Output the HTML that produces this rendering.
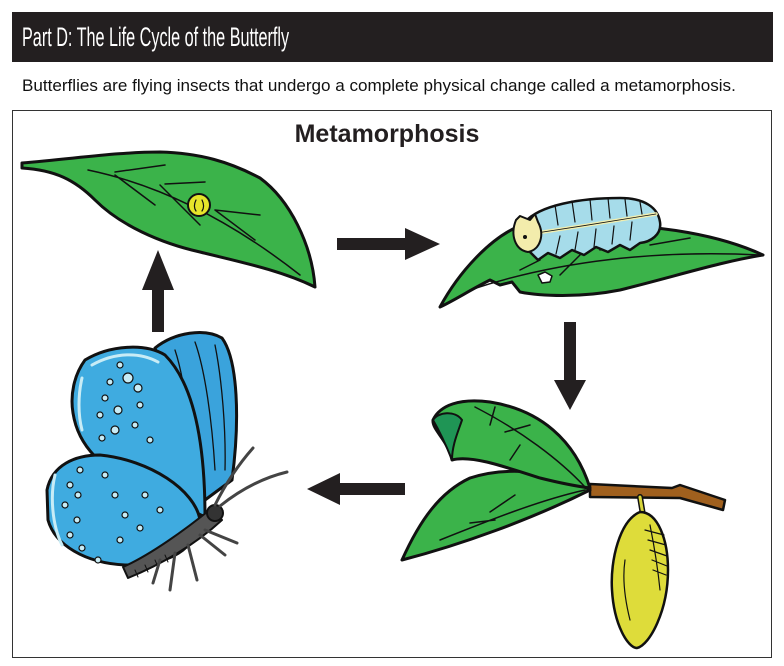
<!DOCTYPE html>
<html><head><style>
body{margin:0;width:784px;height:666px;background:#fff;overflow:hidden;font-family:"Liberation Sans",Arial,sans-serif}
.bar{position:absolute;left:12px;top:12px;width:761px;height:50px;background:#231f20}
.bar span{position:absolute;left:10px;top:10px;color:#fff;font-size:27px;white-space:nowrap;transform:scaleX(.6);transform-origin:left}
.sub{position:absolute;left:22px;top:77px;font-size:16.5px;color:#111;white-space:nowrap;transform:scaleX(1.035);transform-origin:left}
.box{position:absolute;left:12px;top:110px;width:758px;height:546px;border:1.5px solid #333}
.ttl{position:absolute;left:0;width:774px;top:120px;text-align:center;font-weight:bold;font-size:25px;color:#231f20}
svg{position:absolute;left:0;top:0}
</style></head><body>
<div class="bar"><span>Part D: The Life Cycle of the Butterfly</span></div>
<div class="sub">Butterflies are flying insects that undergo a complete physical change called a metamorphosis.</div>
<div class="box"></div>
<div class="ttl">Metamorphosis</div>
<svg width="784" height="666" stroke-linejoin="round" stroke-linecap="round">
<g fill="#231f20">
<polygon points="337,238 405,238 405,228 440,244 405,260 405,250 337,250"/>
<polygon points="564,322 576,322 576,380 586,380 570,410 554,380 564,380"/>
<polygon points="405,483 340,483 340,473 307,489 340,505 340,495 405,495"/>
<polygon points="152,332 164,332 164,290 174,290 158,250 142,290 152,290"/>
</g>
<!-- leaf 1 -->
<path d="M22,163 C80,158 120,152 160,152 C200,153 230,162 260,178 C290,200 312,245 315,287 C280,270 240,262 200,252 C160,243 120,225 95,200 C75,180 55,170 22,168Z" fill="#3bb34a" stroke="#111" stroke-width="3"/>
<path d="M88,170 C160,185 230,220 300,275 M115,172 L165,165 M165,184 L205,182 M115,175 L155,205 M160,185 L200,225 M215,210 L260,215 M215,210 L255,240" stroke="#111" stroke-width="1.5" fill="none"/>
<circle cx="199" cy="205" r="11" fill="#e6e52a" stroke="#111" stroke-width="2"/>
<path d="M196,200 C194,204 194,208 196,211 M202,200 C204,204 204,208 202,211" stroke="#111" stroke-width="1.2" fill="none"/>
<!-- leaf 2 -->
<path d="M440,307 C460,270 490,240 515,228 L600,225 C660,225 720,235 763,255 C720,262 680,275 620,290 C580,298 540,296 520,292 L512,282 L500,285 L490,280 C470,290 455,300 440,307Z" fill="#3bb34a" stroke="#111" stroke-width="3"/>
<path d="M470,290 C560,260 660,250 760,255 M540,260 L520,270 M580,255 L560,275 M600,250 L625,235 M650,245 L690,238" stroke="#111" stroke-width="1.5" fill="none"/>
<path d="M538,275 L545,272 L552,276 L550,282 L542,283Z" fill="#fff" stroke="#111" stroke-width="1.5"/>
<!-- caterpillar -->
<path d="M525,222 C540,205 580,198 620,198 C645,198 658,208 660,222 C662,235 650,242 640,243 L630,250 L620,245 L608,252 L596,247 L584,255 L572,250 L560,258 L548,253 L538,260 L528,250Z" fill="#a6dcea" stroke="#111" stroke-width="2.5"/>
<path d="M530,234 C570,228 620,220 656,214" stroke="#f2efb0" stroke-width="3.5" fill="none"/>
<path d="M530,234 C570,228 620,220 656,214" stroke="#111" stroke-width="0.8" fill="none"/>
<path d="M555,205 L558,225 M572,201 L575,222 M590,199 L592,220 M608,198 L610,218 M625,199 L627,216 M640,202 L642,214 M560,236 L556,254 M578,232 L575,250 M596,229 L594,247 M614,226 L612,244 M632,222 L630,240" stroke="#111" stroke-width="1.2" fill="none"/>
<path d="M516,220 C510,235 515,250 528,252 C540,250 545,235 538,222 L535,214 L530,220 L520,216Z" fill="#f3ecac" stroke="#111" stroke-width="2"/>
<circle cx="525" cy="237" r="2" fill="#111"/>
<!-- branch -->
<path d="M590,484 L672,488 L680,485 L725,500 L723,510 L680,498 L590,497Z" fill="#a0601e" stroke="#111" stroke-width="2.5"/>
<path d="M590,490 C560,472 510,465 470,478 C440,492 420,520 402,560 C460,545 530,520 590,490Z" fill="#3bb34a" stroke="#111" stroke-width="3"/>
<path d="M590,488 C575,440 540,410 490,402 C460,398 440,405 433,420 C432,430 448,440 452,460 C470,455 500,465 540,478 C560,483 575,486 590,488Z" fill="#3bb34a" stroke="#111" stroke-width="3"/>
<path d="M433,420 C438,412 455,410 462,420 C458,432 452,445 452,460 C446,445 440,432 433,420Z" fill="#1f9555" stroke="#111" stroke-width="2"/>
<path d="M440,540 C490,520 540,500 585,490 M475,407 C520,430 560,460 585,487 M490,425 L495,407 M520,445 L510,460 M505,432 L530,425 M470,523 L495,520 M490,512 L515,495" stroke="#111" stroke-width="1.5" fill="none"/>
<path d="M640,497 L643,515" stroke="#111" stroke-width="6"/><path d="M640,497 L643,515" stroke="#d8d63a" stroke-width="3"/>
<path d="M640,512 C620,520 610,560 612,590 C614,625 628,648 637,648 C650,645 668,610 668,570 C668,540 658,512 640,512Z" fill="#dedc3a" stroke="#111" stroke-width="2.5"/>
<path d="M645,530 L664,535 M648,540 L666,545 M650,550 L667,556 M652,560 L667,566 M653,570 L666,575 M650,525 C655,550 658,570 660,590 M625,560 C622,580 625,600 630,620" stroke="#111" stroke-width="1.2" fill="none"/>
<!-- butterfly -->
<path d="M155,348 C175,332 205,328 222,338 C238,360 240,420 232,480 L205,500 Z" fill="#3aa3dc" stroke="#111" stroke-width="3"/>
<path d="M175,350 C185,380 190,430 195,470 M195,342 C205,370 212,420 215,470 M215,345 C222,380 226,430 225,470" stroke="#111" stroke-width="1.3" fill="none"/>
<path d="M85,360 C110,345 145,343 165,355 C190,380 205,430 205,517 L150,490 C100,470 78,445 73,413 C70,395 74,375 85,360Z" fill="#3fabe0" stroke="#111" stroke-width="3"/>
<path d="M92,365 C115,352 140,352 158,362 M82,378 C78,395 78,415 82,430" stroke="#c8ecf6" stroke-width="3" fill="none"/>
<path d="M47,490 C52,465 75,455 100,455 C150,460 195,490 200,520 C195,550 170,565 125,565 C85,563 55,545 48,520 Z" fill="#3fabe0" stroke="#111" stroke-width="3"/>
<path d="M55,475 C50,495 52,525 62,545" stroke="#c8ecf6" stroke-width="3" fill="none"/>
<g fill="#c8ecf6" stroke="#111" stroke-width="1.2">
<circle cx="120" cy="365" r="3"/><circle cx="128" cy="378" r="5"/><circle cx="110" cy="382" r="3"/><circle cx="138" cy="388" r="4"/><circle cx="105" cy="398" r="3"/><circle cx="118" cy="410" r="4"/><circle cx="140" cy="405" r="3"/><circle cx="100" cy="415" r="3"/><circle cx="115" cy="430" r="4"/><circle cx="135" cy="425" r="3"/><circle cx="150" cy="440" r="3"/><circle cx="102" cy="438" r="3"/>
<circle cx="80" cy="470" r="3"/><circle cx="70" cy="485" r="3"/><circle cx="78" cy="495" r="3"/><circle cx="65" cy="505" r="3"/><circle cx="77" cy="520" r="3"/><circle cx="70" cy="535" r="3"/><circle cx="82" cy="548" r="3"/><circle cx="98" cy="560" r="3"/><circle cx="105" cy="475" r="3"/><circle cx="115" cy="495" r="3"/><circle cx="125" cy="515" r="3"/><circle cx="140" cy="528" r="3"/><circle cx="145" cy="495" r="3"/><circle cx="160" cy="510" r="3"/><circle cx="120" cy="540" r="3"/>
</g>
<path d="M123,567 C150,555 185,530 212,508 L222,520 C195,545 160,565 128,578 Z" fill="#555" stroke="#111" stroke-width="2"/>
<path d="M135,570 L138,577 M145,565 L148,572 M155,560 L158,567 M165,555 L168,562" stroke="#111" stroke-width="1"/>
<circle cx="215" cy="513" r="8" fill="#333" stroke="#111" stroke-width="2"/>
<path d="M215,505 C225,485 238,465 253,448 M220,506 C240,490 262,478 287,472" stroke="#444" stroke-width="3" fill="none"/>
<path d="M160,560 L153,583 M175,553 L170,590 M188,545 L197,580 M200,535 L225,555 M205,530 L237,543" stroke="#444" stroke-width="3" fill="none"/>
</svg>
</body></html>
